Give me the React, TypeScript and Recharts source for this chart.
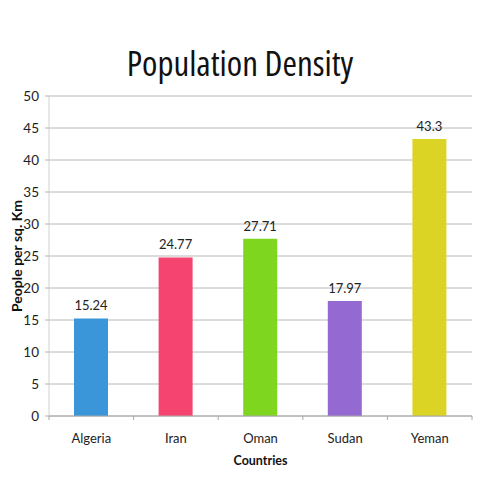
import React from 'react';
import {
  Bar,
  BarChart,
  CartesianGrid,
  Cell,
  LabelList,
  XAxis,
  YAxis,
} from 'recharts';

const countries = ['Algeria', 'Iran', 'Oman', 'Sudan', 'Yeman'];
const densities = [15.24, 24.77, 27.71, 17.97, 43.3];
const barColors = ['#3a96d9', '#f5446f', '#7ed61f', '#9469d1', '#dcd425'];
const yTicks = [0, 5, 10, 15, 20, 25, 30, 35, 40, 45, 50];

const W = 480;
const H = 480;
const MARGIN = { top: 96, right: 8, bottom: 24, left: 9 };
const Y_AXIS_W = 40;
const X_AXIS_H = 40;
const PLOT_W = W - MARGIN.left - Y_AXIS_W - MARGIN.right;
const BAND = PLOT_W / countries.length;
const FONT = 'Lato, "Open Sans", sans-serif';

const data = countries.map((country, i) => ({ country, density: densities[i] }));

function CountryTick(props: any) {
  const { x, y, payload, index } = props;
  const last = index === countries.length - 1;
  return (
    <g>
      <line x1={x - BAND / 2} x2={x - BAND / 2} y1={y} y2={y + 4} stroke="#a8a8a8" />
      {last && <line x1={x + BAND / 2} x2={x + BAND / 2} y1={y} y2={y + 4} stroke="#a8a8a8" />}
      <text x={x} y={y + 27} textAnchor="middle" fontSize={13} fill="#222">
        {payload.value}
      </text>
    </g>
  );
}

export default function App() {
  return (
    <div
      style={{
        position: 'absolute',
        left: 0,
        top: 0,
        width: W,
        height: H,
        background: '#fff',
        fontFamily: FONT,
      }}
    >
      <div
        style={{
          position: 'absolute',
          left: 0,
          width: W,
          top: 41,
          textAlign: 'center',
          fontFamily: '"Open Sans", sans-serif',
          fontSize: 35,
          fontStretch: '75%',
          color: '#111',
          lineHeight: '44px',
        }}
      >
        Population Density
      </div>
      <BarChart width={W} height={H} data={data} margin={MARGIN}>
        <CartesianGrid vertical={false} stroke="#b8b8b8" />
        <XAxis
          dataKey="country"
          height={X_AXIS_H}
          axisLine={{ stroke: '#a8a8a8' }}
          tickLine={false}
          tickSize={0}
          tickMargin={0}
          tick={<CountryTick />}
          interval={0}
          label={{
            value: 'Countries',
            position: 'insideBottom',
            offset: -9,
            fontSize: 12.5,
            fontWeight: 'bold',
            fill: '#111',
          }}
        />
        <YAxis
          width={Y_AXIS_W}
          domain={[0, 50]}
          ticks={yTicks}
          interval={0}
          axisLine={{ stroke: '#d0d0d0' }}
          tickLine={{ stroke: '#b0b0b0' }}
          tickSize={4}
          tickMargin={6}
          tick={{ fontSize: 13.5, fill: '#222' }}
          label={{
            value: 'People per sq. Km',
            angle: -90,
            position: 'center',
            dx: -12,
            fontSize: 14,
            fontWeight: 'bold',
            fill: '#111',
          }}
        />
        <Bar dataKey="density" barSize={34} isAnimationActive={false}>
          {data.map((d, i) => (
            <Cell key={d.country} fill={barColors[i]} />
          ))}
          <LabelList dataKey="density" position="top" offset={8} fontSize={13} fill="#222" />
        </Bar>
      </BarChart>
    </div>
  );
}
